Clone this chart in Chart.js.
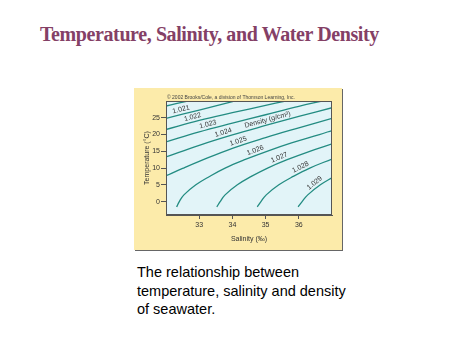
<!DOCTYPE html>
<html>
<head>
<meta charset="utf-8">
<script src="https://cdn.jsdelivr.net/npm/chart.js@4"></script>
<style>
    body { margin: 0; width: 474px; height: 355px; background: #fff; position: relative; overflow: hidden; }
    h1 { position: absolute; left: 40px; top: 24px; margin: 0; font: bold 20px/20px "Liberation Serif", serif; letter-spacing: -0.4px; color: #844066; white-space: nowrap; }
    #panel { position: absolute; left: 134px; top: 88px; width: 208px; height: 162px; background: #fcebaa; box-shadow: 1px 1px 0 #666; }
    #caption { position: absolute; left: 137px; top: 263px; margin: 0; font: 14.5px/18.5px "Liberation Sans", Arial, sans-serif; color: #000; }
</style>
</head>
<body>
<h1>Temperature, Salinity, and Water Density</h1>
<div id="panel"><canvas id="densityChart" width="208" height="162"></canvas></div>
<p id="caption">The relationship between<br>temperature, salinity and density<br>of seawater.</p>

<script>
// Isopycnal curves (salinity ‰, temperature °C)
const densities = ['1.020', '1.021', '1.022', '1.023', '1.024', '1.025', '1.026', '1.027', '1.028', '1.029'];
const curveSalinity = [
    [32, 32.3, 32.65],
    [32, 33, 34, 34.1],
    [32, 33, 34, 35, 35.6],
    [32, 33, 34, 35, 36, 36.7],
    [32, 33, 34, 35, 36, 37],
    [32, 32.5, 33, 34, 35, 36, 37],
    [32.32, 32.4, 32.54, 32.9, 33.31, 33.78, 34.37, 35.04, 35.78, 36.62, 37],
    [33.53, 33.63, 33.78, 34.15, 34.57, 35.06, 35.65, 36.33, 37],
    [34.75, 34.86, 35.02, 35.4, 35.83, 36.33, 37],
    [35.98, 36.1, 36.27, 36.65, 37]
];
const curveTemp = [
    [28.5, 29.2, 30],
    [24.8, 27.3, 29.8, 30],
    [21.5, 24.2, 26.5, 28.7, 30],
    [17.8, 20.8, 23.4, 25.9, 28.4, 30],
    [13.3, 16.8, 19.9, 22.7, 25.4, 28],
    [7.7, 9.9, 12, 15.9, 19.1, 22, 24.8],
    [-1.6, 0, 2, 5, 7.5, 10, 12.5, 15, 17.5, 20, 21.2],
    [-1.6, 0, 2, 5, 7.5, 10, 12.5, 15, 17.2],
    [-1.6, 0, 2, 5, 7.5, 10, 12.7],
    [-1.6, 0, 2, 5, 7.1]
];

// Labels written along the curves
const labelText = ['1.021', '1.022', '1.023', '1.024', 'Density (g/cm³)', '1.025', '1.026', '1.027', '1.028', '1.029'];
const labelCurve = [1, 2, 3, 4, 4, 5, 6, 7, 8, 9];
const labelSalinity = [32.49, 32.84, 33.3, 33.77, 35.1, 34.22, 34.74, 35.47, 36.12, 36.57];

const xTicks = [33, 34, 35, 36];
const yTicks = [0, 5, 10, 15, 20, 25];

const datasets = densities.map((d, i) => ({
    label: d,
    data: curveSalinity[i].map((s, j) => ({ x: s, y: curveTemp[i][j] })),
    borderColor: '#238c82',
    borderWidth: 1.3,
    pointRadius: 0,
    tension: 0.4,
    fill: false
}));

const plotBackground = {
    id: 'plotBackground',
    beforeDraw(chart) {
        const { ctx, chartArea: a } = chart;
        ctx.save();
        ctx.fillStyle = '#e2f4f8';
        ctx.fillRect(a.left, a.top, a.right - a.left, a.bottom - a.top);
        ctx.restore();
    },
    afterDraw(chart) {
        const { ctx, chartArea: a } = chart;
        ctx.save();
        ctx.strokeStyle = '#555';
        ctx.lineWidth = 1;
        ctx.strokeRect(a.left + 0.5, a.top + 0.5, a.right - a.left - 1, a.bottom - a.top - 1);
        ctx.fillStyle = '#444';
        ctx.font = '5px "Liberation Sans", Arial, sans-serif';
        ctx.textBaseline = 'bottom';
        ctx.fillText('© 2002 Brooks/Cole, a division of Thomson Learning, Inc.', a.left + 1, a.top - 1);
        ctx.restore();
    }
};

const curveLabels = {
    id: 'curveLabels',
    afterDatasetsDraw(chart) {
        const { ctx } = chart;
        const xScale = chart.scales.x;
        ctx.save();
        ctx.fillStyle = '#333';
        ctx.font = '7px "Liberation Sans", Arial, sans-serif';
        ctx.textAlign = 'center';
        ctx.textBaseline = 'middle';
        labelText.forEach((text, k) => {
            const pts = chart.getDatasetMeta(labelCurve[k]).data;
            const px = xScale.getPixelForValue(labelSalinity[k]);
            let j = 0;
            while (j < pts.length - 2 && pts[j + 1].x < px) j++;
            const p1 = pts[j], p2 = pts[j + 1];
            const t = (px - p1.x) / (p2.x - p1.x);
            const py = p1.y + t * (p2.y - p1.y);
            const ang = Math.atan2(p2.y - p1.y, p2.x - p1.x);
            ctx.save();
            ctx.translate(px, py);
            ctx.rotate(ang);
            ctx.fillText(text, 0, -5);
            ctx.restore();
        });
        ctx.restore();
    }
};

const tickFont = { family: '"Liberation Sans", Arial, sans-serif', size: 7 };

new Chart(document.getElementById('densityChart').getContext('2d'), {
    type: 'line',
    data: { datasets },
    plugins: [plotBackground, curveLabels],
    options: {
        responsive: false,
        animation: false,
        layout: { padding: { top: 13, right: 10, left: 0, bottom: 0 } },
        plugins: { legend: { display: false }, tooltip: { enabled: false } },
        scales: {
            x: {
                type: 'linear',
                min: 32,
                max: 37,
                afterBuildTicks: axis => { axis.ticks = xTicks.map(v => ({ value: v })); },
                afterFit: scale => { scale.height = 35; },
                grid: { drawOnChartArea: false, drawTicks: true, tickLength: 4, color: '#555' },
                border: { display: true, color: '#555' },
                ticks: { font: tickFont, color: '#333', padding: 2, maxRotation: 0 },
                title: { display: true, text: 'Salinity (‰)', font: tickFont, color: '#333', padding: { top: 0, bottom: 7 } }
            },
            y: {
                min: -4,
                max: 30,
                afterBuildTicks: axis => { axis.ticks = yTicks.map(v => ({ value: v })); },
                afterFit: scale => { scale.width = 32; },
                grid: { drawOnChartArea: false, drawTicks: true, tickLength: 5, color: '#555' },
                border: { display: true, color: '#555' },
                ticks: { font: tickFont, color: '#333', padding: 1 },
                title: { display: true, text: 'Temperature (°C)', font: tickFont, color: '#333', padding: { top: 9, bottom: 0 } }
            }
        }
    }
});
</script>
</body>
</html>
